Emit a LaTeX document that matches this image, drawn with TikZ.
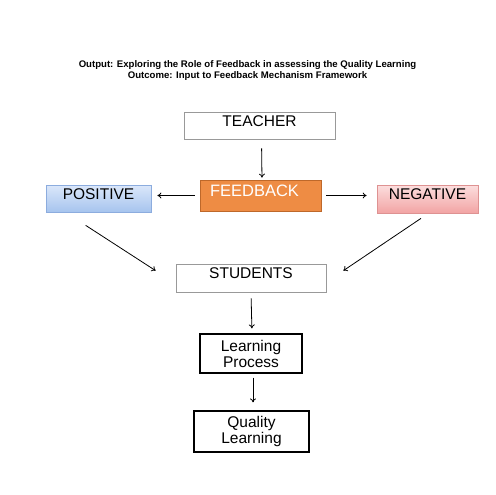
\documentclass[tikz,border=0pt]{standalone}
\usepackage{fontspec}
\setmainfont{Liberation Sans}
\usetikzlibrary{arrows.meta,calc}
\definecolor{posTop}{RGB}{219,231,250}
\definecolor{posBot}{RGB}{166,196,238}
\definecolor{posLine}{RGB}{140,172,222}
\definecolor{negTop}{RGB}{252,222,222}
\definecolor{negBot}{RGB}{242,164,164}
\definecolor{negLine}{RGB}{222,146,146}
\definecolor{fbFill}{RGB}{238,140,68}
\definecolor{fbLine}{RGB}{190,104,42}
\begin{document}
\begin{tikzpicture}[x=1pt,y=1pt,yscale=-1,xscale=1,
  capbox/.style={inner sep=0pt,font=\fontsize{15.5}{17}\selectfont,text height=11pt,text depth=10pt},
  plainbox/.style={capbox,draw=gray!80,line width=0.7pt},
  twolinebox/.style={draw=black,line width=1.2pt,inner sep=0pt,align=center,font=\fontsize{15.5}{16}\selectfont},
  arrowline/.style={-{To[length=4pt,width=6pt]},line width=0.8pt}]
\useasboundingbox (0,0) rectangle (495,495);

% Title
\node [align=center,font=\bfseries\fontsize{9.6}{10.5}\selectfont] (title) at (247.5,70.5) {Output: Exploring the Role of Feedback in assessing the Quality Learning\\Outcome: Input to Feedback Mechanism Framework};

% Boxes
\node [plainbox,minimum width=151pt,minimum height=27pt] (teacher) at (259.5,125.5) {TEACHER};
\node [draw=fbLine,fill=fbFill,line width=0.7pt,minimum width=121pt,minimum height=31pt,
  label={[text=white,font=\fontsize{16.5}{18}\selectfont,inner sep=0pt,xshift=-6pt,yshift=4.5pt]center:FEEDBACK}] (feedback) at (260.5,195.5) {};
\node [capbox,draw=posLine,line width=0.7pt,top color=posTop,bottom color=posBot,minimum width=105pt,minimum height=27pt] (positive) at (98.5,198.5) {POSITIVE};
\node [capbox,draw=negLine,line width=0.7pt,top color=negTop,bottom color=negBot,minimum width=101pt,minimum height=28pt] (negative) at (427.5,199) {NEGATIVE};
\node [plainbox,minimum width=150pt,minimum height=28pt] (students) at (251,278) {STUDENTS};
\node [twolinebox,minimum width=102pt,minimum height=39pt] (process) at (251,353.5) {Learning\\Process};
\node [twolinebox,minimum width=115pt,minimum height=41pt] (quality) at (251.5,431.5) {Quality\\Learning};

%Straight Lines
\draw [arrowline,shorten <=9pt,shorten >=2pt] ([xshift=2pt]teacher.south) -- ([xshift=1.5pt]feedback.north);
\draw [arrowline,shorten <=5pt,shorten >=6pt] (feedback.west) -- (feedback.west -| positive.east);
\draw [arrowline,shorten <=5pt,shorten >=10pt] (feedback.east) -- (feedback.east -| negative.west);
\draw [arrowline] ($(positive.south west)+(40,13)$) -- ($(students.north west)+(-20,7)$);
\draw [arrowline] ($(negative.south)+(-6.5,5)$) -- ($(students.north east)+(17,7)$);
\draw [arrowline,shorten <=6pt,shorten >=5pt] (students.south) -- ([xshift=1pt]process.north);
\draw [arrowline,shorten <=4pt,shorten >=8pt] ([xshift=2pt]process.south) -- ([xshift=1.5pt]quality.north);
\end{tikzpicture}
\end{document}
